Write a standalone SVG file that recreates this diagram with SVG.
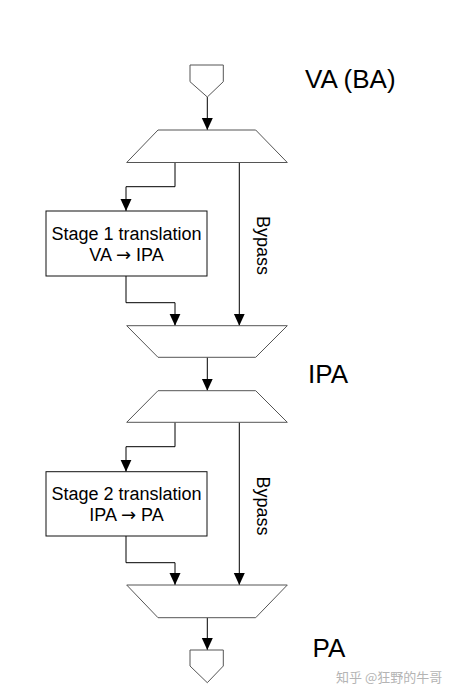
<svg xmlns="http://www.w3.org/2000/svg" width="458" height="696" viewBox="0 0 458 696">
<style>
.bg{fill:#fff}
.shape{fill:#fff;stroke:#555;stroke-width:1}
.box{fill:#fff;stroke:#111;stroke-width:1}
.wire{fill:none;stroke:#000;stroke-width:1}
.lbl{font-family:"Liberation Sans",Arial,sans-serif;fill:#000}
.arr{font-family:"DejaVu Sans",sans-serif}
.big{font-size:26px}
.mid{font-size:18px}
.wm{font-family:"Noto Sans CJK SC",sans-serif;font-size:13px;fill:#b4b4b4}
</style>
<defs>
<marker id="ah" viewBox="0 0 12 12" refX="12" refY="6" markerWidth="12" markerHeight="12" markerUnits="userSpaceOnUse" orient="auto">
<path d="M0,0.5 L12,6 L0,11.5 z" fill="#000"/>
</marker>
</defs>
<rect class="bg" x="0" y="0" width="458" height="696"/>
<g id="connectors">
<line class="wire" x1="207.3" y1="97" x2="207.3" y2="130" marker-end="url(#ah)"/>
<polyline class="wire" points="175,162.5 175,186.7 126,186.7 126,211" marker-end="url(#ah)"/>
<polyline class="wire" points="126,276 126,302.7 175,302.7 175,325.7" marker-end="url(#ah)"/>
<line class="wire" x1="239.3" y1="162.5" x2="239.3" y2="325.7" marker-end="url(#ah)"/>
<line class="wire" x1="207.3" y1="357.3" x2="207.3" y2="390.7" marker-end="url(#ah)"/>
<polyline class="wire" points="175,422.3 175,446.7 126,446.7 126,471.7" marker-end="url(#ah)"/>
<polyline class="wire" points="126,536 126,562.7 175,562.7 175,585" marker-end="url(#ah)"/>
<line class="wire" x1="239.3" y1="422.3" x2="239.3" y2="585" marker-end="url(#ah)"/>
<line class="wire" x1="207.3" y1="617.7" x2="207.3" y2="650" marker-end="url(#ah)"/>
</g>
<g id="input">
<polygon class="shape" points="190,65 223.3,65 223.3,81.7 207.3,97 190,81.7"/>
</g>
<g id="label-va">
<text class="lbl big" x="305" y="88">VA (BA)</text>
</g>
<g id="mux1">
<polygon class="shape" points="158,130 255.7,130 287.3,162.5 126.7,162.5"/>
</g>
<g id="stage1">
<rect class="box" x="46" y="211" width="161" height="65"/>
<text class="lbl mid" x="126.5" y="240" text-anchor="middle">Stage 1 translation</text>
<text class="lbl mid" x="126.5" y="261" text-anchor="middle">VA <tspan class="arr">→</tspan> IPA</text>
</g>
<g id="bypass1">
<text class="lbl mid" transform="translate(257,245.5) rotate(90)" text-anchor="middle">Bypass</text>
</g>
<g id="mux2">
<polygon class="shape" points="126.7,325.7 287.3,325.7 255.7,357.3 158,357.3"/>
</g>
<g id="label-ipa">
<text class="lbl big" x="308" y="382.7">IPA</text>
</g>
<g id="mux3">
<polygon class="shape" points="158,390.7 255.7,390.7 287.3,422.3 126.7,422.3"/>
</g>
<g id="stage2">
<rect class="box" x="46" y="471.7" width="161" height="64.3"/>
<text class="lbl mid" x="126.5" y="500" text-anchor="middle">Stage 2 translation</text>
<text class="lbl mid" x="126.5" y="521" text-anchor="middle">IPA <tspan class="arr">→</tspan> PA</text>
</g>
<g id="bypass2">
<text class="lbl mid" transform="translate(257,506) rotate(90)" text-anchor="middle">Bypass</text>
</g>
<g id="mux4">
<polygon class="shape" points="126.7,585 287.3,585 255.7,617.7 158,617.7"/>
</g>
<g id="output">
<polygon class="shape" points="190,650 223.3,650 223.3,666 207.3,682.7 190,666"/>
</g>
<g id="label-pa">
<text class="lbl big" x="312.5" y="657.3">PA</text>
</g>
<g id="watermark">
<text class="wm" x="336" y="682">知乎 @狂野的牛哥</text>
</g>
</svg>
